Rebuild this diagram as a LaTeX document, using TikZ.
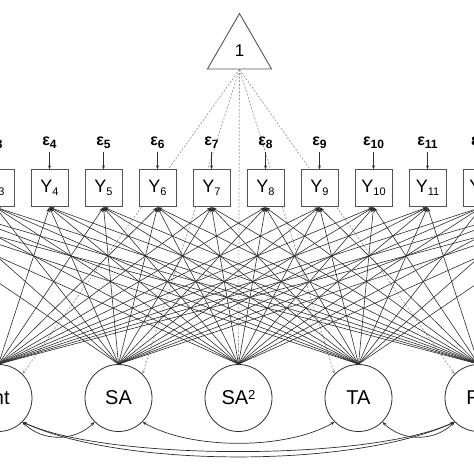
\documentclass[tikz,border=0pt]{standalone}
\usepackage{fontspec}
\setmainfont{Liberation Sans}
\usetikzlibrary{arrows.meta,positioning,shapes.geometric,backgrounds}
\definecolor{ln}{HTML}{2E2E2E}
\definecolor{bx}{HTML}{555555}
\definecolor{dsh}{HTML}{9A9A9A}
\newcommand{\ylab}[1]{Y\raisebox{-3pt}{\fontsize{11}{11}\selectfont #1}}
\newcommand{\elab}[1]{\textbf{ε\raisebox{-3pt}{\fontsize{12}{12}\selectfont #1}}}
\newcommand{\sqlab}{SA\raisebox{5pt}{\fontsize{13}{13}\selectfont 2}}

\begin{document}
\begin{tikzpicture}[x=1pt,y=1pt,
  obs/.style={draw=bx,line width=0.9pt,fill=white,minimum size=37pt,inner sep=0pt,font=\fontsize{18}{20}\selectfont},
  lat/.style={circle,draw=ln,line width=0.8pt,fill=white,minimum size=67pt,inner sep=0pt,font=\fontsize{20}{22}\selectfont},
  eps/.style={inner xsep=0pt,inner ysep=4pt,font=\fontsize{16}{18}\selectfont\bfseries},
  load/.style={ln,line width=0.6pt,-{Stealth[length=5pt,width=3.5pt]}},
  mean/.style={dsh,dash pattern=on 2pt off 1.6pt,line width=0.7pt,-{Stealth[length=4pt,width=3pt]}},
  cov/.style={ln,line width=0.7pt,{Stealth[length=4pt,width=3pt]}-{Stealth[length=4pt,width=3pt]}}]
  \useasboundingbox (0,0) rectangle (474,474);
  \clip (0,0) rectangle (474,474);
  % constant
  \node[regular polygon,regular polygon sides=3,draw=bx,line width=0.9pt,minimum size=74pt,inner sep=0pt,
        font=\fontsize{17}{19}\selectfont] (one) at (239.5,423.5) {1};
  % indicators and residuals
  \foreach \i in {1,...,14} {
    \node[obs] (Y\i) at ({49.5+54*(\i-4)},285.7) {\ylab{\i}};
    \node[eps,above=17pt of Y\i] (e\i) {\elab{\i}};
    \draw[ln,line width=0.7pt,-{Stealth[length=4pt,width=3pt]}] (e\i) -- (Y\i);
  }
  % growth factors
  \node[lat] (In) at (-1.5,76) {Int};
  \node[lat] (SA) at (118.5,76) {SA};
  \node[lat] (SQ) at (238.5,76) {\sqlab};
  \node[lat] (TA) at (358.5,76) {TA};
  \node[lat] (FA) at (478.5,76) {FA};
  % loadings
  \foreach \f in {In,SA,SQ,TA,FA}
    \foreach \i in {1,...,14}
      \draw[load] (\f.north) -- (Y\i.south);
  % means
  \begin{scope}[on background layer]
    \clip (0,0) rectangle (474,474);
    \foreach \f/\a in {In/north east,SA/north east,SQ/north,TA/north west,FA/north west}
      \draw[mean] (one.side 2) -- (\f.\a);
  \end{scope}
  % covariances
  \draw[cov] (In.south east) to[out=-45,in=-135] (SA.south west);
  \draw[cov] (SA.south east) to[out=-30,in=-150,looseness=0.75] (TA.south west);
  \draw[cov] (TA.south east) to[out=-45,in=-135] (FA.south west);
  \draw[cov] (In.south east) to[out=-25,in=-155,looseness=0.55] (FA.south west);
  \draw[cov] (In.south east) to[out=-25,in=-155,looseness=0.65] (FA.south west);
\end{tikzpicture}
\end{document}
